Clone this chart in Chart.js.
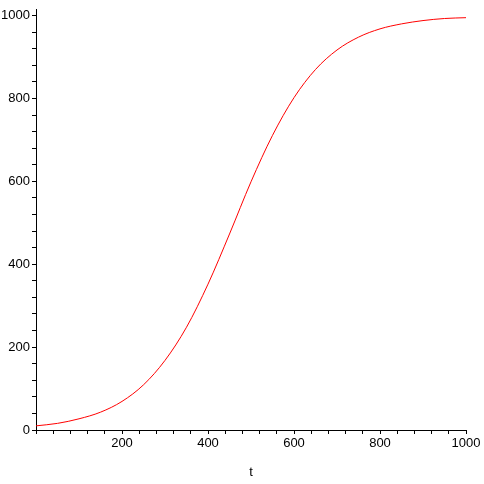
<!DOCTYPE html>
<html>
<head>
<meta charset="utf-8">
<script src="https://cdn.jsdelivr.net/npm/chart.js@4"></script>
<style>
  html, body { margin: 0; padding: 0; background: #fff; }
  #wrap { width: 484px; height: 484px; }
</style>
</head>
<body>
<div id="wrap"><canvas id="lineChart"></canvas></div>
<script>
// t values and population
const tValues = [0, 50, 100, 150, 200, 250, 300, 350, 400, 450, 500,
                 550, 600, 650, 700, 750, 800, 850, 900, 950, 1000];
const yValues = [10, 16, 27, 43, 69, 109, 168, 248, 352, 473, 599,
                 711, 802, 870, 917, 948, 968, 980, 988, 993, 995];
const xTickLabels = [200, 400, 600, 800, 1000];
const yTickLabels = [0, 200, 400, 600, 800, 1000];

Chart.defaults.font.family = '"Liberation Sans", Arial, sans-serif';
Chart.defaults.font.size = 13;
Chart.defaults.color = '#000';

const points = tValues.map((t, i) => ({ x: t, y: yValues[i] }));

// tick marks every 40, labels only on the major ones
const minorTicks = (axis) => {
    const ticks = [];
    for (let v = 0; v <= 1000; v += 40) ticks.push({ value: v });
    axis.ticks = ticks;
};

const ctx = document.getElementById('lineChart');

new Chart(ctx, {
    type: 'line',
    data: {
        datasets: [{
            data: points,
            borderColor: 'rgb(255,0,0)',
            borderWidth: 1,
            fill: false,
            pointRadius: 0,
            cubicInterpolationMode: 'monotone'
        }]
    },
    options: {
        responsive: true,
        maintainAspectRatio: false,
        animation: false,
        layout: { padding: { left: 0, right: 18, top: 5, bottom: 0 } },
        plugins: {
            legend: { display: false },
            tooltip: { enabled: false }
        },
        scales: {
            x: {
                type: 'linear',
                min: 0,
                max: 1000,
                afterBuildTicks: minorTicks,
                afterFit: (axis) => { axis.height = 54; },
                border: { display: true, color: '#000', width: 1 },
                grid: { drawOnChartArea: false, drawTicks: true, tickLength: 4, color: '#000' },
                ticks: {
                    autoSkip: false,
                    maxRotation: 0,
                    padding: 2,
                    callback: (v) => xTickLabels.includes(v) ? String(v) : ''
                },
                title: { display: true, text: 't', padding: { top: 0, bottom: 4 } }
            },
            y: {
                min: 0,
                max: 1014,
                afterBuildTicks: minorTicks,
                afterFit: (axis) => { axis.width = 36; },
                border: { display: true, color: '#000', width: 1 },
                grid: { drawOnChartArea: false, drawTicks: true, tickLength: 4, color: '#000' },
                ticks: {
                    autoSkip: false,
                    padding: 2,
                    callback: (v) => yTickLabels.includes(v) ? String(v) : ''
                }
            }
        }
    }
});
</script>
</body>
</html>
